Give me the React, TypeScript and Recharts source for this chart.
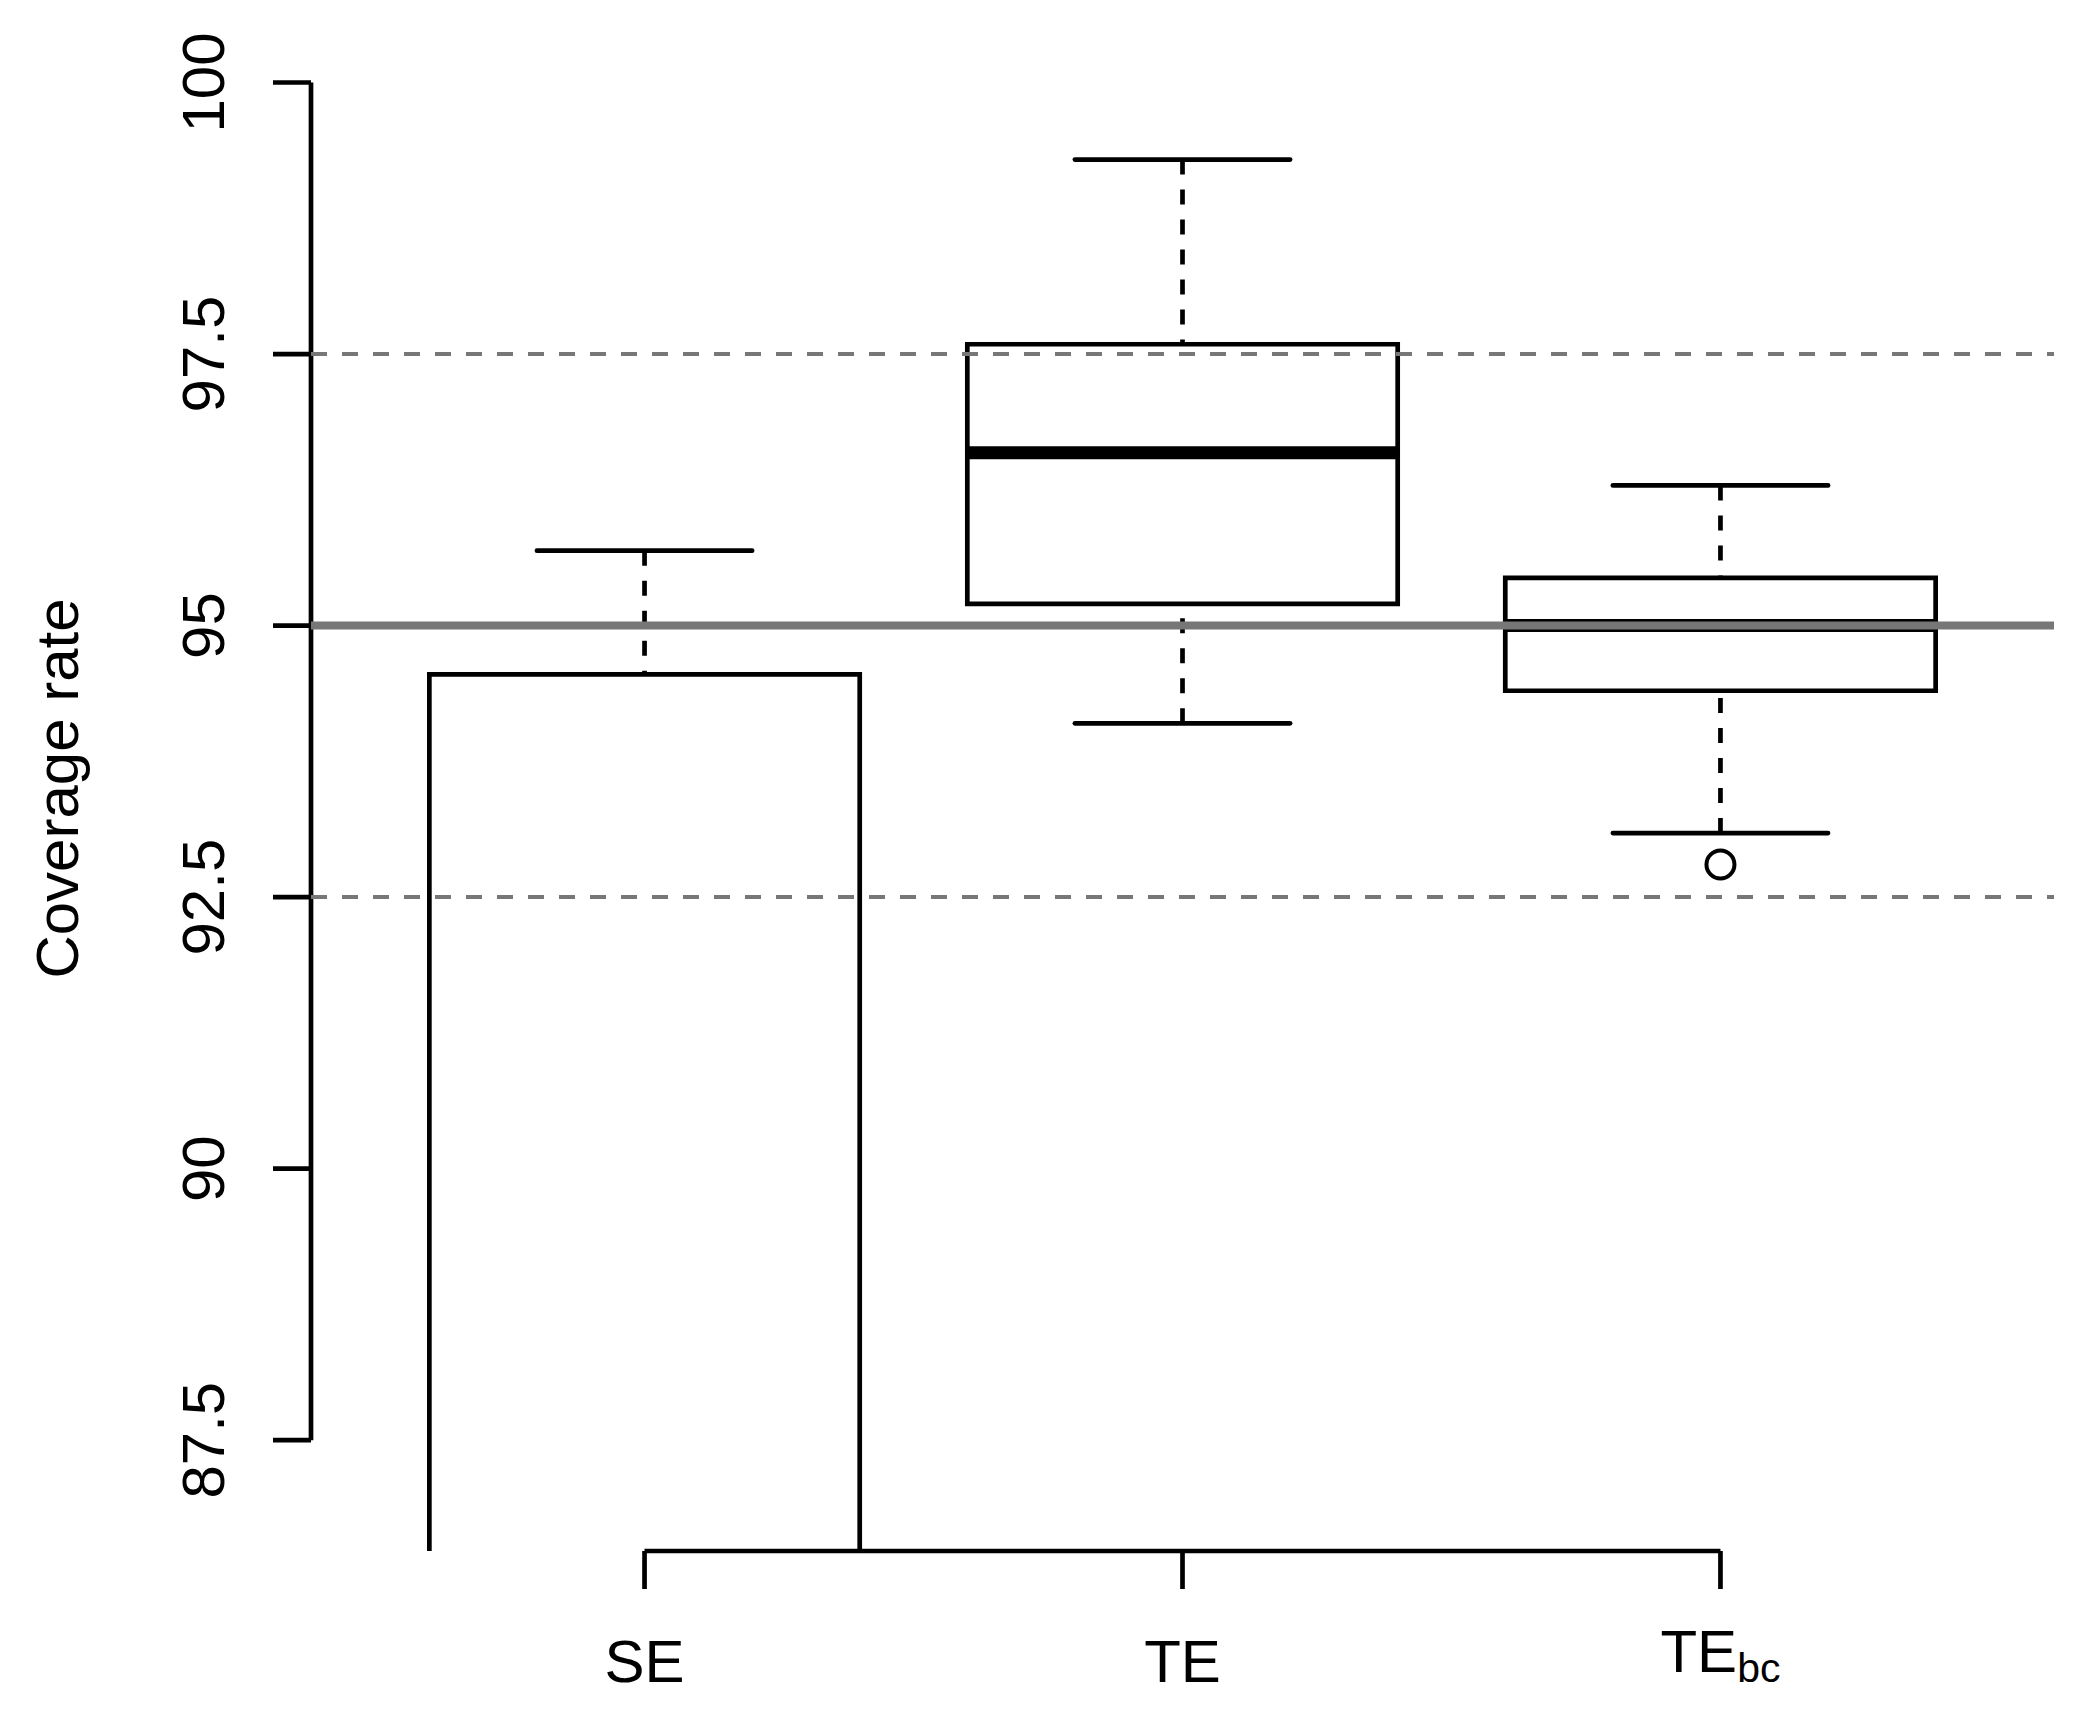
import {
  ComposedChart,
  XAxis,
  YAxis,
  Scatter,
  ReferenceArea,
  ReferenceLine,
  Label,
} from 'recharts'

// box plot statistics per estimator (SE lower part runs off the bottom of the plot)
const categories = ['SE', 'TE', 'TEbc']
const positions = [1, 2, 3]
const whiskerLow = [77.0, 94.1, 93.09]
const lowerQuartile = [81.0, 95.2, 94.4]
const medians = [83.5, 96.59, 95.0]
const upperQuartile = [94.55, 97.59, 95.44]
const whiskerHigh = [95.69, 99.29, 96.29]

const outlierPos = [3]
const outlierVals = [92.8]

const yTicks = [87.5, 90, 92.5, 95, 97.5, 100]
const targetRate = 95
const boundRates = [92.5, 97.5]

const xDomain = [0.38, 3.62]
const yDomain = [86.48, 100.52]

const FONT = '"Liberation Sans", Arial, Helvetica, sans-serif'
const GRAY = '#777777'
const LW = 4.7

const outliers = outlierPos.map((x, i) => ({ x, y: outlierVals[i] }))

function YTick(props: any) {
  const { x, y, payload } = props
  return (
    <text
      x={x}
      y={y}
      transform={`rotate(-90, ${x}, ${y})`}
      textAnchor="middle"
      fontSize={60}
      fontFamily={FONT}
      fill="#000"
    >
      {String(payload.value)}
    </text>
  )
}

function XTick(props: any) {
  const { x, y, payload } = props
  const name = categories[positions.indexOf(payload.value)] || ''
  if (name === 'TEbc') {
    return (
      <text x={x} y={y - 10} textAnchor="middle" fontSize={60} fontFamily={FONT} fill="#000">
        TE
        <tspan fontSize={41} dy={10}>bc</tspan>
      </text>
    )
  }
  return (
    <text x={x} y={y} textAnchor="middle" fontSize={60} fontFamily={FONT} fill="#000">
      {name}
    </text>
  )
}

function YLabel(props: any) {
  const vb = props.viewBox || { x: 0, y: 26, width: 311, height: 1525 }
  const x = vb.x + 78
  const y = vb.y + vb.height / 2
  return (
    <text
      x={x}
      y={y}
      transform={`rotate(-90, ${x}, ${y})`}
      textAnchor="middle"
      fontSize={60}
      fontFamily={FONT}
      fill="#000"
    >
      Coverage rate
    </text>
  )
}

export default function App() {
  return (
    <div style={{ width: 2094, height: 1719, background: '#fff' }}>
      <style>{'body{margin:0;background:#fff}'}</style>
      <ComposedChart
        width={2094}
        height={1719}
        data={outliers}
        margin={{ top: 26, right: 40, bottom: 0, left: 0 }}
      >
        <XAxis
          dataKey="x"
          type="number"
          domain={xDomain}
          allowDataOverflow
          ticks={positions}
          axisLine={false}
          tickLine={{ stroke: '#000', strokeWidth: LW }}
          tickSize={38}
          tickMargin={93}
          height={168}
          tick={<XTick />}
          interval={0}
        />
        <YAxis
          dataKey="y"
          type="number"
          domain={yDomain}
          allowDataOverflow
          ticks={yTicks}
          axisLine={false}
          tickLine={{ stroke: '#000', strokeWidth: LW }}
          tickSize={38}
          tickMargin={49}
          width={311}
          tick={<YTick />}
          interval={0}
        >
          <Label content={<YLabel />} />
        </YAxis>

        {/* boxes */}
        {positions.map((p, i) => (
          <ReferenceArea
            key={`box-${i}`}
            x1={p - 0.4}
            x2={p + 0.4}
            y1={lowerQuartile[i]}
            y2={upperQuartile[i]}
            fill="none"
            fillOpacity={0}
            stroke="#000"
            strokeWidth={LW}
            ifOverflow="hidden"
          />
        ))}

        {/* whiskers (dashed), drawn from the staple toward the hinge */}
        {positions.map((p, i) => (
          <ReferenceLine
            key={`wh-${i}`}
            segment={[{ x: p, y: whiskerHigh[i] }, { x: p, y: upperQuartile[i] }]}
            stroke="#000"
            strokeWidth={LW}
            strokeDasharray="15 15"
            ifOverflow="hidden"
          />
        ))}
        {positions.map((p, i) => (
          <ReferenceLine
            key={`wl-${i}`}
            segment={[{ x: p, y: whiskerLow[i] }, { x: p, y: lowerQuartile[i] }]}
            stroke="#000"
            strokeWidth={LW}
            strokeDasharray="15 15"
            ifOverflow="hidden"
          />
        ))}

        {/* staples */}
        {positions.map((p, i) => (
          <ReferenceLine
            key={`sh-${i}`}
            segment={[{ x: p - 0.2, y: whiskerHigh[i] }, { x: p + 0.2, y: whiskerHigh[i] }]}
            stroke="#000"
            strokeWidth={LW}
            strokeLinecap="round"
            ifOverflow="hidden"
          />
        ))}
        {positions.map((p, i) => (
          <ReferenceLine
            key={`sl-${i}`}
            segment={[{ x: p - 0.2, y: whiskerLow[i] }, { x: p + 0.2, y: whiskerLow[i] }]}
            stroke="#000"
            strokeWidth={LW}
            strokeLinecap="round"
            ifOverflow="hidden"
          />
        ))}

        {/* medians */}
        {positions.map((p, i) => (
          <ReferenceLine
            key={`md-${i}`}
            segment={[{ x: p - 0.4, y: medians[i] }, { x: p + 0.4, y: medians[i] }]}
            stroke="#000"
            strokeWidth={13}
            ifOverflow="hidden"
          />
        ))}

        <Scatter
          data={outliers}
          dataKey="y"
          isAnimationActive={false}
          shape={(props: any) => (
            <circle cx={props.cx} cy={props.cy} r={14} fill="none" stroke="#000" strokeWidth={4} />
          )}
        />

        {/* axis lines spanning first to last tick, as in base graphics */}
        <ReferenceLine
          segment={[{ x: positions[0], y: yDomain[0] }, { x: positions[positions.length - 1], y: yDomain[0] }]}
          stroke="#000"
          strokeWidth={LW}
          ifOverflow="visible"
        />
        <ReferenceLine
          segment={[{ x: xDomain[0], y: yTicks[0] }, { x: xDomain[0], y: yTicks[yTicks.length - 1] }]}
          stroke="#000"
          strokeWidth={LW}
          ifOverflow="visible"
        />

        {/* nominal level and tolerance band */}
        {boundRates.map((b) => (
          <ReferenceLine
            key={`bound-${b}`}
            y={b}
            stroke={GRAY}
            strokeWidth={4}
            strokeDasharray="16 15"
          />
        ))}
        <ReferenceLine y={targetRate} stroke={GRAY} strokeWidth={8} />
      </ComposedChart>
    </div>
  )
}
